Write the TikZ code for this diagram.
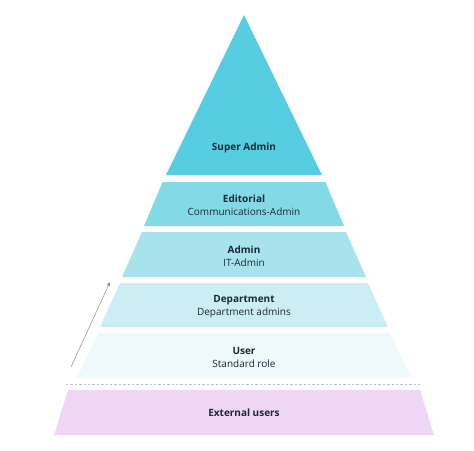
\documentclass[tikz,border=0pt]{standalone}
\usepackage{fontspec}
\setmainfont{Open Sans}
\usepackage{xcolor}
\usetikzlibrary{arrows.meta,positioning}
\definecolor{tsuper}{HTML}{56CDE0}
\definecolor{tedit}{HTML}{84D9E6}
\definecolor{tadmin}{HTML}{A8E3EC}
\definecolor{tdept}{HTML}{CAEEF4}
\definecolor{tuser}{HTML}{EEF9FC}
\definecolor{textern}{HTML}{EFD6F5}
\definecolor{tink}{HTML}{1C2836}
\definecolor{tgrey}{HTML}{8A8F96}
\definecolor{tdots}{HTML}{BFC3C8}
\tikzset{
  tierlabel/.style = {font=\fontsize{10}{13}\selectfont, text=tink,
                      align=center, inner sep=0pt},
  climb/.style     = {-{Stealth[length=1.6mm,width=1.2mm]}, tgrey, line width=0.5pt},
  sepline/.style   = {tdots, line width=1pt, dash pattern=on 2.4pt off 2pt},
}
% band: top y, bottom y, top half width, bottom half width, colour
\newcommand{\tierband}[5]{\fill[#5] (244-#3,#1) -- (244+#3,#1) -- (244+#4,#2) -- (244-#4,#2) -- cycle;}

\begin{document}
\begin{tikzpicture}[x=1pt,y=-1pt]
\useasboundingbox (0,0) rectangle (474,450);
% ---- pyramid tiers ----
\fill[tsuper] (244,15) -- (322,175) -- (166,175) -- cycle;
\tierband{182}{226}{81.5}{100}{tedit}
\tierband{232}{277}{102}{122}{tadmin}
\tierband{283}{327}{124}{144}{tdept}
\tierband{333}{378}{146}{167}{tuser}
\tierband{390}{435}{176}{190}{textern}
% ---- labels ----
\node[tierlabel] (super) at (244,148) {\textbf{Super Admin}};
\node[tierlabel] (edit)  at (244,205.5) {\textbf{Editorial}\\Communications-Admin};
\node[tierlabel] (admin) at (244,256) {\textbf{Admin}\\IT-Admin};
\node[tierlabel] (dept)  at (244,306.5) {\textbf{Department}\\Department admins};
\node[tierlabel] (user)  at (244,357.5) {\textbf{User}\\Standard role};
\node[tierlabel] (ext)   at (244,413) {\textbf{External users}};
% ---- separator and climb arrow ----
\coordinate (sepL) at (66,384);
\coordinate (sepR) at (421,384);
\draw[sepline] (sepL) -- (sepR);
\coordinate (climbS) at (71,367);
\coordinate (climbE) at (110,282);
\draw[climb] (climbS) -- (climbE);
\end{tikzpicture}
\end{document}
